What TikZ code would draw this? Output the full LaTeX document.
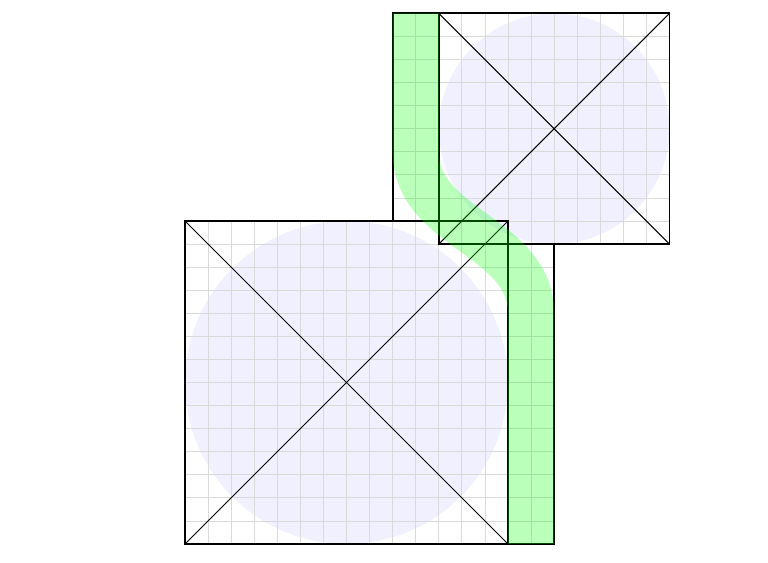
\documentclass[tikz,border=0pt]{standalone}
\usepackage{tikz}

\begin{document}
\begin{tikzpicture}[x=5mm, y=5mm]
    \useasboundingbox (-8.02, -0.82) rectangle (25.27, 23.58);

    \coordinate (O) at (0, 0);
    \coordinate (P) at (14, 14);
    \coordinate (Q) at (11, 13);
    \coordinate (R) at (21, 23);
    \coordinate (C1) at (7, 7);
    \coordinate (C2) at (16, 18);

    \fill[blue!6] (C1) circle (7);
    \fill[blue!6] (C2) circle (5);

    \begin{scope}
      \clip (O) rectangle (P) (14, 0) rectangle (16, 13)
        (Q) rectangle (R) (9, 14) rectangle (11, 23);
      \draw[gray!30, line width=0.5pt, step=5mm] (0, 0) grid (21, 23);
    \end{scope}

    \draw[line width=0.6pt] (O) -- (P);
    \draw[line width=0.6pt] (0, 14) -- (14, 0);
    \draw[line width=0.6pt] (Q) -- (R);
    \draw[line width=0.6pt] (11, 23) -- (21, 13);

    \draw[line width=1.2pt] (O) rectangle (P);
    \draw[line width=1.2pt] (Q) rectangle (R);
    \draw[line width=1.2pt] (14, 0) -- (16, 0) -- (16, 13);
    \draw[line width=1.2pt] (11, 23) -- (9, 23) -- (9, 14);

    %\draw[red] (10, 17) -- (15, 10);
    \draw[green, opacity=0.27, line width=10mm]
      (10, 23) -- (10, 17) to[out=-90, in=90] (15, 10) -- (15, 0);
  \end{tikzpicture}
\end{document}
